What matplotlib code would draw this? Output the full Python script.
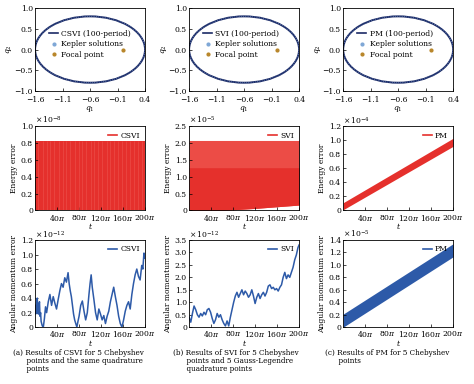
import numpy as np
import matplotlib.pyplot as plt
from matplotlib.patches import Ellipse
from matplotlib.lines import Line2D
from matplotlib.ticker import FuncFormatter

plt.rcParams['font.family'] = ['DejaVu Serif']
plt.rcParams['mathtext.fontset'] = 'dejavuserif'
plt.rcParams['font.size'] = 5.5

# orbit (Kepler ellipse) read from the top row
orbit_center = (-0.6, 0.0)
orbit_a = 1.0
orbit_b = 0.8
focal_point = (0.0, 0.0)
methods = ['CSVI', 'SVI', 'PM']

# energy error bands (t in units of pi)
e_csvi_t = [0, 200]
e_csvi_lo = [0.0, 0.0]
e_csvi_hi = [0.83e-8, 0.83e-8]
# lighter stripes seen inside the CSVI band (t in units of pi)
e_csvi_stripes = [6, 14, 21, 27, 35, 43, 50, 57, 64, 72, 80, 86, 93, 101, 108, 115,
                  122, 130, 137, 144, 151, 158, 166, 173, 180, 187, 194]

e_svi_t = [0, 60, 120, 160, 200]
e_svi_lo = [0.0, 0.0, 0.06e-5, 0.11e-5, 0.16e-5]
e_svi_mid = [1.27e-5, 1.27e-5, 1.27e-5, 1.27e-5, 1.27e-5]
e_svi_hi = [2.08e-5, 2.08e-5, 2.08e-5, 2.08e-5, 2.08e-5]

e_pm_t = [0, 200]
e_pm_lo = [0.01e-4, 0.915e-4]
e_pm_hi = [0.11e-4, 1.03e-4]

# angular momentum error
l_csvi_t = [0, 1, 2, 3, 4, 5, 6, 7, 8, 9, 10, 11, 13, 15, 17, 19, 21, 24, 27, 30, 33, 36,
            39, 42, 45, 48, 51, 54, 57, 60, 62, 64, 66, 68, 70, 72, 74, 76, 78, 80, 83,
            86, 89, 92, 95, 98, 100, 102, 104, 107, 110, 113, 116, 119, 122, 125, 128,
            131, 134, 137, 140, 143, 146, 149, 152, 155, 158, 161, 164, 167, 170, 173,
            176, 179, 182, 185, 188, 191, 194, 196, 198, 200]
l_csvi = [0.3, 0.18, 0.22, 0.38, 0.4, 0.2, 0.18, 0.3, 0.35, 0.15, 0.2, 0.08, 0.02,
          0.0, 0.12, 0.28, 0.2, 0.35, 0.45, 0.3, 0.42, 0.33, 0.25, 0.38, 0.5, 0.6,
          0.55, 0.68, 0.62, 0.75, 0.6, 0.5, 0.42, 0.3, 0.18, 0.1, 0.05, 0.0, 0.08,
          0.15, 0.3, 0.36, 0.22, 0.1, 0.2, 0.45, 0.6, 0.72, 0.55, 0.38, 0.2, 0.1, 0.25,
          0.18, 0.1, 0.16, 0.05, 0.15, 0.22, 0.35, 0.45, 0.55, 0.42, 0.3, 0.15, 0.05,
          0.0, 0.1, 0.22, 0.3, 0.35, 0.25, 0.45, 0.6, 0.72, 0.8, 0.7, 0.65, 0.85, 0.8,
          1.02, 0.95]
l_csvi = [v * 1e-12 for v in l_csvi]

l_svi_t = [0, 3, 6, 9, 12, 15, 18, 21, 24, 27, 30, 33, 36, 39, 42, 45, 48, 51, 54, 57,
           60, 63, 66, 69, 72, 75, 78, 81, 84, 87, 90, 93, 96, 99, 102, 105, 108, 111,
           114, 117, 120, 123, 126, 129, 132, 135, 138, 141, 144, 147, 150, 153, 156,
           159, 162, 165, 168, 171, 174, 177, 180, 183, 186, 189, 192, 195, 198, 200]
l_svi = [0.4, 0.2, 0.55, 0.85, 0.7, 0.5, 0.4, 0.55, 0.45, 0.6, 0.5, 0.7, 0.75, 0.6,
         0.35, 0.15, 0.3, 0.55, 0.4, 0.5, 0.3, 0.15, 0.05, 0.25, 0.05, 0.4, 0.7, 1.0,
         1.25, 1.4, 1.2, 1.35, 1.5, 1.3, 1.45, 1.35, 1.2, 1.3, 1.5, 1.25, 0.95, 1.2,
         1.35, 1.15, 1.3, 1.4, 1.25, 1.4, 1.65, 1.7, 1.55, 1.6, 1.5, 1.55, 1.45, 1.6,
         1.7, 2.0, 2.2, 1.95, 2.1, 2.0, 2.2, 2.4, 2.7, 2.9, 3.2, 3.3]
l_svi = [v * 1e-12 for v in l_svi]

l_pm_t = [0, 200]
l_pm_lo = [0.0, 1.13e-5]
l_pm_hi = [0.21e-5, 1.34e-5]

captions = [
    '(a) Results of CSVI for 5 Chebyshev\n      points and the same quadrature\n      points',
    '(b) Results of SVI for 5 Chebyshev\n      points and 5 Gauss-Legendre\n      quadrature points',
    '(c) Results of PM for 5 Chebyshev\n      points',
]
caption_x = [0.027, 0.365, 0.686]

RED = '#e5302c'
RED_LIGHT = '#ec4c46'
BLUE = '#2d5aa8'
NAVY = '#1b2a66'
LIGHT = '#7fa7d6'
FOCAL = '#b8862a'

fig = plt.figure(figsize=(4.74, 3.84), dpi=100)
lefts = [0.074, 0.399, 0.724]
w = 0.232
rows = [(0.763, 0.216), (0.452, 0.219), (0.148, 0.227)]


def t_axis(ax):
    ax.set_xlim(0, 200 * np.pi)
    ax.set_xticks([k * np.pi for k in [40, 80, 120, 160, 200]])
    ax.set_xticklabels([f'{k}$\\pi$' for k in [40, 80, 120, 160, 200]])
    ax.set_xlabel('$t$', labelpad=-1)


def sci_axis(ax, top, step, exp):
    scale = 10.0 ** exp
    ax.set_ylim(0, top * scale)
    ax.set_yticks(np.arange(0, top + step / 2, step) * scale)
    ax.yaxis.set_major_formatter(FuncFormatter(
        lambda v, p: '0' if abs(v) < 1e-30 else f'{v / scale:.1f}'))
    ax.text(0.0, 1.005, f'$\\times\\,10^{{{exp}}}$', transform=ax.transAxes,
            fontsize=5.5, va='bottom', ha='left')


top_axes = []
for i, m in enumerate(methods):
    # top: orbit
    ax = fig.add_axes([lefts[i], rows[0][0], w, rows[0][1]])
    top_axes.append(ax)
    ax.add_patch(Ellipse(orbit_center, 2 * orbit_a, 2 * orbit_b, fill=False,
                         ec=NAVY, lw=1.4))
    ax.add_patch(Ellipse(orbit_center, 2 * orbit_a, 2 * orbit_b, fill=False,
                         ec=LIGHT, lw=0.7, ls=(0, (0.5, 1.8))))
    ax.plot(*focal_point, 'o', color=FOCAL, ms=2)
    ax.set_xlim(-1.6, 0.4)
    ax.set_ylim(-1.0, 1.0)
    ax.set_xticks([-1.6, -1.1, -0.6, -0.1, 0.4])
    ax.set_yticks([-1.0, -0.5, 0.0, 0.5, 1.0])
    ax.set_xlabel('$q_1$', labelpad=0)
    ax.set_ylabel('$q_2$', labelpad=0)
    handles = [Line2D([], [], color=NAVY, lw=1.2),
               Line2D([], [], ls='', marker='o', ms=2, color=LIGHT),
               Line2D([], [], ls='', marker='o', ms=2, color=FOCAL)]
    ax.legend(handles, [f'{m} (100-period)', 'Kepler solutions', 'Focal point'],
              loc='upper left', bbox_to_anchor=(0.08, 0.8), frameon=False,
              handlelength=1.2, handletextpad=0.4, labelspacing=0.3,
              borderpad=0.2)

    # middle: energy error
    ax = fig.add_axes([lefts[i], rows[1][0], w, rows[1][1]])
    if m == 'CSVI':
        tt = np.array(e_csvi_t) * np.pi
        ax.fill_between(tt, e_csvi_lo, e_csvi_hi, color=RED, lw=0)
        ax.vlines(np.array(e_csvi_stripes) * np.pi, 0, e_csvi_hi[0],
                  color=RED_LIGHT, lw=0.5)
        sci_axis(ax, 1.0, 0.2, -8)
    elif m == 'SVI':
        tt = np.array(e_svi_t) * np.pi
        ax.fill_between(tt, e_svi_lo, e_svi_hi, color=RED_LIGHT, lw=0)
        ax.fill_between(tt, e_svi_lo, e_svi_mid, color=RED, lw=0)
        sci_axis(ax, 2.5, 0.5, -5)
    else:
        tt = np.array(e_pm_t) * np.pi
        ax.fill_between(tt, e_pm_lo, e_pm_hi, color=RED, lw=0)
        sci_axis(ax, 1.2, 0.2, -4)
    ax.plot([], [], color=RED, lw=1.2, label=m)
    ax.legend(loc='upper right', frameon=False, handlelength=1.2,
              handletextpad=0.4, borderpad=0.2)
    t_axis(ax)
    ax.set_ylabel('Energy error', labelpad=2)

    # bottom: angular momentum error
    ax = fig.add_axes([lefts[i], rows[2][0], w, rows[2][1]])
    if m == 'CSVI':
        ax.plot(np.array(l_csvi_t) * np.pi, l_csvi, color=BLUE, lw=1.1)
        sci_axis(ax, 1.2, 0.2, -12)
    elif m == 'SVI':
        ax.plot(np.array(l_svi_t) * np.pi, l_svi, color=BLUE, lw=1.1)
        sci_axis(ax, 3.5, 0.5, -12)
    else:
        tt = np.array(l_pm_t) * np.pi
        ax.fill_between(tt, l_pm_lo, l_pm_hi, color=BLUE, lw=0)
        sci_axis(ax, 1.4, 0.2, -5)
    ax.plot([], [], color=BLUE, lw=1.2, label=m)
    ax.legend(loc='upper right', frameon=False, handlelength=1.2,
              handletextpad=0.4, borderpad=0.2)
    t_axis(ax)
    ax.set_ylabel('Angular momentum error', labelpad=2)

    fig.text(caption_x[i], 0.090, captions[i], fontsize=5.2, va='top',
             ha='left', linespacing=0.95)

for ax in fig.axes:
    ax.tick_params(direction='in', length=2, width=0.5, pad=1.5, labelsize=5.5)
    for s in ax.spines.values():
        s.set_linewidth(0.6)
for ax in top_axes:
    ax.tick_params(axis='x', pad=3.5)

fig.savefig('out.png', dpi=100)
